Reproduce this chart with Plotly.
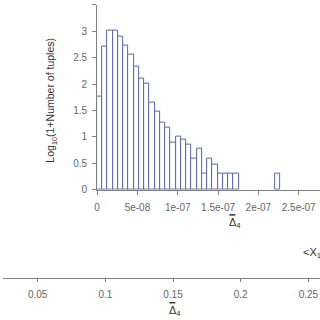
import plotly.graph_objects as go

# Inset histogram data
bin_width = 6.5e-9
heights = [1.76, 2.70, 3.01, 3.00, 2.90, 2.72, 2.55, 2.32, 2.10, 2.00,
           1.65, 1.48, 1.28, 1.17, 0.90, 1.00, 0.95, 0.85, 0.60, 0.78,
           0.30, 0.60, 0.48, 0.30, 0.30, 0.30, 0.30, 0, 0, 0,
           0, 0, 0, 0, 0.30]
inset_xtick_vals = [0, 5e-8, 1e-7, 1.5e-7, 2e-7, 2.5e-7]
inset_xtick_text = ["0", "5e-08", "1e-07", "1.5e-07", "2e-07", "2.5e-07"]
inset_ytick_vals = [0, 0.5, 1, 1.5, 2, 2.5, 3, 3.5]
inset_ytick_text = ["0", "0.5", "1", "1.5", "2", "2.5", "3", "3.5"]

# Main (lower) axis ticks
main_xtick_vals = [0.05, 0.1, 0.15, 0.2, 0.25]
main_xtick_text = ["0.05", "0.1", "0.15", "0.2", "0.25"]

centers = [(i + 0.5) * bin_width for i in range(len(heights))]
line_widths = [1 if h > 0 else 0 for h in heights]

W = 320.0
def px_x(p):
    return p / W
def px_y(p):
    return 1 - p / W

fig = go.Figure()
fig.add_trace(go.Bar(
    x=centers, y=heights, width=bin_width,
    marker=dict(color="white", line=dict(color="#5b64a4", width=line_widths)),
    xaxis="x2", yaxis="y2", showlegend=False,
))
# invisible trace to keep main axis
fig.add_trace(go.Scatter(x=[0.1], y=[0.5], mode="markers",
                         marker=dict(opacity=0), showlegend=False,
                         hoverinfo="skip", xaxis="x", yaxis="y"))

FONT = "Liberation Sans, Arial, sans-serif"
tickfont = dict(family=FONT, size=10, color="#666666")
axis_col = "#808080"
title_col = "#333333"

def ann(text, x, y, size=11, family=FONT, angle=0, xanchor="center"):
    return dict(text=text, x=px_x(x), y=px_y(y), xref="paper", yref="paper",
                showarrow=False, textangle=angle, xanchor=xanchor, yanchor="middle",
                font=dict(family=family, size=size, color=title_col))

def overbar(x0, x1, y):
    return dict(type="line", xref="paper", yref="paper",
                x0=px_x(x0), x1=px_x(x1), y0=px_y(y), y1=px_y(y),
                line=dict(color=title_col, width=1.5))

fig.update_layout(
    width=320, height=320,
    margin=dict(l=0, r=0, t=0, b=0),
    paper_bgcolor="white", plot_bgcolor="rgba(0,0,0,0)",
    bargap=0,
    xaxis=dict(domain=[0, 1], anchor="y", range=[0.0244, 0.2586],
               showline=True, linecolor=axis_col, linewidth=1,
               ticks="outside", ticklen=3, tickcolor=axis_col,
               tickvals=main_xtick_vals, ticktext=main_xtick_text,
               ticklabelstandoff=4,
               tickfont=tickfont, showgrid=False, zeroline=False),
    yaxis=dict(domain=[px_y(283.3), px_y(240)], range=[0, 1],
               visible=False, showgrid=False),
    xaxis2=dict(domain=[px_x(95), 1], anchor="y2", range=[0, 225 / 40.7 * 5e-8],
                showline=True, linecolor=axis_col, linewidth=1,
                ticks="outside", ticklen=4, tickcolor=axis_col,
                tickvals=inset_xtick_vals, ticktext=inset_xtick_text,
                ticklabelstandoff=4,
                tickfont=tickfont, showgrid=False, zeroline=False),
    yaxis2=dict(domain=[px_y(193.5), px_y(4.7)], anchor="x2", range=[0, 3.5],
                showline=True, linecolor=axis_col, linewidth=1,
                ticks="outside", ticklen=4, tickcolor=axis_col,
                tickvals=inset_ytick_vals, ticktext=inset_ytick_text,
                ticklabelstandoff=3,
                tickfont=tickfont, showgrid=False, zeroline=False),
    shapes=[
        overbar(228.5, 234.5, 219.0),
        overbar(168.0, 174.0, 308.5),
    ],
    annotations=[
        ann("Log<sub>10</sub>(1+Number of tuples)", 49, 102, size=10.5, angle=-90),
        ann("Δ<sub>4</sub>", 234, 227.5),
        ann("Δ<sub>4</sub>", 173.5, 317),
        ann("<X<sub>1</sub>-", 301, 258, xanchor="left"),
    ],
)

fig.write_html("out.html")
